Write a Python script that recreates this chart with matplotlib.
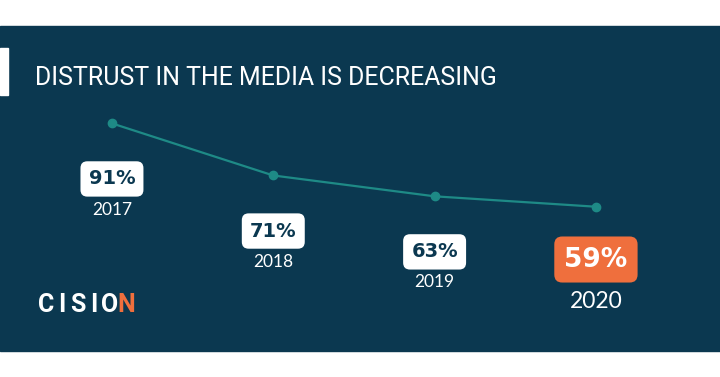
import matplotlib.pyplot as plt
from matplotlib.patches import Rectangle

# chart values
years = [2017, 2018, 2019, 2020]
distrust = [91, 71, 63, 59]
labels = ["91%", "71%", "63%", "59%"]

title = "DISTRUST IN THE MEDIA IS DECREASING"
navy = "#0b3850"
teal = "#1e8a86"
orange = "#ef6f3d"

fig = plt.figure(figsize=(7.2, 3.77), dpi=100)
fig.patch.set_facecolor("white")

# navy panel and white tab next to the title
fig.patches.append(Rectangle((0, 26 / 377), 1, 325 / 377, transform=fig.transFigure,
                             color=navy, zorder=-2))
fig.patches.append(Rectangle((0, (377 - 95) / 377), 8 / 720, 47 / 377,
                             transform=fig.transFigure, color="white", zorder=-1))

fig.text(35 / 720, (377 - 85) / 377, title, color="white", fontsize=17.9,
         family="Roboto", va="baseline", ha="left")

ax = fig.add_axes([0, 26 / 377, 1, 325 / 377])
ax.set_facecolor("none")
ax.set_xlim(2016.306, 2020.769)
ax.set_ylim(3.6, 128.4)
ax.axis("off")

ax.plot(years, distrust, color=teal, lw=1.6, marker="o", ms=6, zorder=2)

for i, (yr, v, lab) in enumerate(zip(years, distrust, labels)):
    if i == len(years) - 1:
        ax.annotate(lab, (yr, v), xytext=(0, -38), textcoords="offset points",
                    ha="center", va="center", fontsize=19, fontweight="bold",
                    color="white", family="DejaVu Sans",
                    bbox=dict(boxstyle="round,pad=0.38,rounding_size=0.3",
                              fc=orange, ec="none"))
        ax.annotate(str(yr), (yr, v), xytext=(0, -68), textcoords="offset points",
                    ha="center", va="center", fontsize=16.5, color="white",
                    family="Lato")
    else:
        ax.annotate(lab, (yr, v), xytext=(0, -40), textcoords="offset points",
                    ha="center", va="center", fontsize=14, fontweight="bold",
                    color=navy, family="DejaVu Sans",
                    bbox=dict(boxstyle="round,pad=0.42,rounding_size=0.35",
                              fc="white", ec="none"))
        ax.annotate(str(yr), (yr, v), xytext=(0, -62), textcoords="offset points",
                    ha="center", va="center", fontsize=12.5, color="white",
                    family="Lato")

# logo
for k, ch in enumerate("CISION"):
    fig.text((46 + 16 * k) / 720, (377 - 312) / 377, ch,
             color=orange if k == 5 else "white",
             fontsize=18, fontweight="bold", family="Roboto",
             va="baseline", ha="center")

fig.savefig("out.png", dpi=100, facecolor=fig.get_facecolor())
